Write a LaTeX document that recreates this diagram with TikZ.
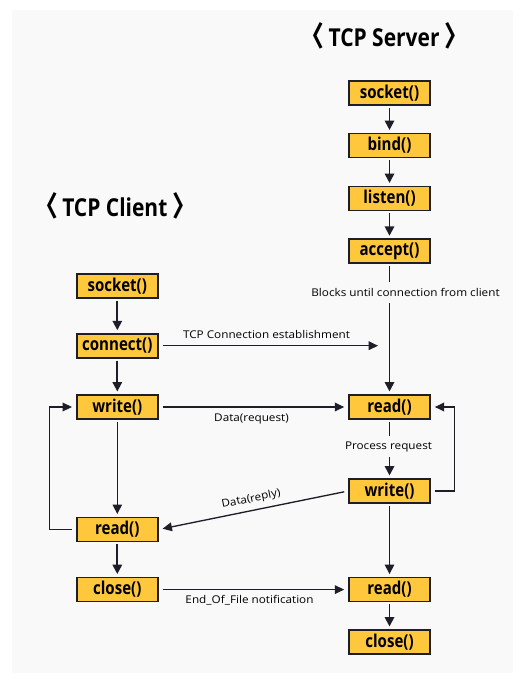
\documentclass[tikz,border=0pt]{standalone}
\usepackage{fontspec}
\setmainfont{Open Sans}
\newfontfamily\boxfont{Open Sans}[FakeStretch=0.85]
\newfontfamily\labelfont{Open Sans}[FakeStretch=1.1]
\newfontfamily\cjk{Noto Sans CJK KR}[FakeStretch=0.85]
\usetikzlibrary{arrows.meta}
\definecolor{bg}{HTML}{F9F9F9}
\definecolor{boxfill}{HTML}{FFC83C}
\definecolor{ink}{HTML}{1E1E28}
\newcommand\lbr{{\cjk\bfseries\fontsize{21}{22}\selectfont 〈}\hspace{3pt}}
\newcommand\rbr{\hspace{4pt}{\cjk\bfseries\fontsize{21}{22}\selectfont 〉}}
\begin{document}
\begin{tikzpicture}[x=0.75pt,y=-0.75pt,
  fn/.style={draw=ink,fill=boxfill,line width=1.3pt,minimum width=60.75pt,minimum height=18pt,inner sep=0pt,
    font=\boxfont\bfseries\fontsize{13.3}{15}\selectfont,text=black},
  title/.style={font=\boxfont\bfseries\fontsize{18.5}{22}\selectfont,text=black,inner sep=0pt},
  lbl/.style={font=\labelfont\fontsize{8}{10}\selectfont,text=black,inner sep=0pt},
  varr/.style={draw=ink,line width=1.4pt,-{Triangle[length=7pt,width=7pt]},shorten <=1.5pt,shorten >=2pt},
  longarr/.style={varr,line width=1pt},
  harr/.style={draw=ink,line width=1pt,-{Triangle[length=7pt,width=6.5pt]},shorten <=3pt,shorten >=3pt}]
\useasboundingbox (0,0) rectangle (527,684);
\fill[bg] (12,10) rectangle (513,673);

% titles
\node[title,anchor=base] (tserv) at (384.7,46.7) {\lbr TCP Server\rbr};
\node[title,anchor=base] (tcli) at (115.5,216) {\lbr TCP Client\rbr};

% server
\node[fn] (ssock) at (389.5,93) {socket()};
\node[fn] (sbind) at (389.5,145.5) {bind()};
\node[fn] (slist) at (389.5,198.5) {listen()};
\node[fn] (sacc) at (389.5,251.3) {accept()};
\node[fn] (sread) at (389.5,407) {read()};
\node[fn] (swrite) at (389.5,491) {write()};
\node[fn] (sread2) at (389.5,589.6) {read()};
\node[fn] (sclose) at (389.5,642) {close()};

% client
\node[fn] (csock) at (117.3,286) {socket()};
\node[fn] (cconn) at (117.3,345.7) {connect()};
\node[fn] (cwrite) at (117.3,407) {write()};
\node[fn] (cread) at (117.3,529.5) {read()};
\node[fn] (cclose) at (117.3,589.6) {close()};

% server verticals
\draw[varr] (ssock) -- (sbind);
\draw[varr] (sbind) -- (slist);
\draw[varr] (slist) -- (sacc);
\draw[varr] (sacc) -- (sread);
\node[lbl,fill=bg,inner xsep=1pt,inner ysep=4.5pt,anchor=base] (blk) at (405.5,296.5) {Blocks until connection from client};
\draw[varr] (sread) -- (swrite);
\node[lbl,fill=bg,inner xsep=1pt,inner ysep=4pt,anchor=base] (proc) at (388.5,449) {Process request};
\draw[longarr] (swrite) -- (sread2);
\draw[varr] (sread2) -- (sclose);

% client verticals
\draw[varr] (csock) -- (cconn);
\draw[varr] (cconn) -- (cwrite);
\draw[longarr] (cwrite) -- (cread);
\draw[varr] (cread) -- (cclose);

% loops
\draw[harr] (swrite.east) -- ++(23.5,0) |- (sread.east);
\draw[harr] (cread.west) -- ++(-26.5,0) |- (cwrite.west);

% messages
\coordinate (cend) at (382,345.7);
\draw[harr] (cconn) -- (cend);
\node[lbl,anchor=base] (lconn) at (266.5,338.3) {TCP Connection establishment};
\draw[harr] (cwrite) -- (sread);
\node[lbl,anchor=base] (lreq) at (251.5,421.5) {Data(request)};
\draw[harr] (swrite.west) -- node[lbl,midway,above=4pt,sloped] (lrep) {Data(reply)} (cread.east);
\draw[harr] (cclose) -- (sread2);
\node[lbl,anchor=base] (leof) at (249.5,603) {End\_Of\_File notification};
\end{tikzpicture}
\end{document}
